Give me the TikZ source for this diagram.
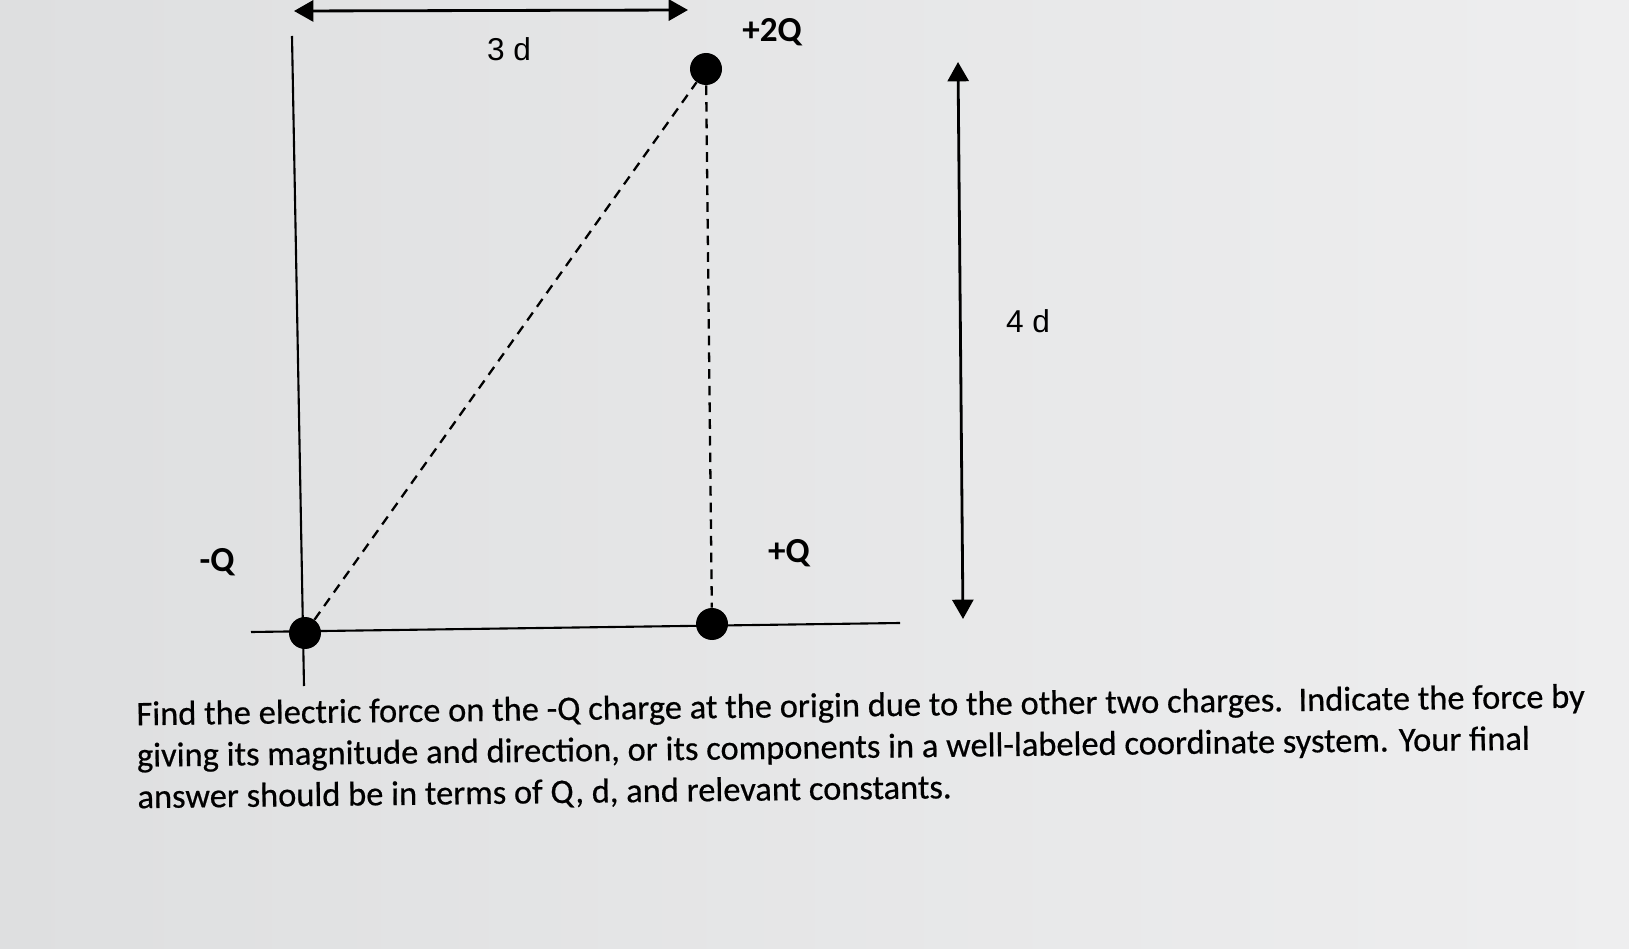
\documentclass[tikz,border=0pt]{standalone}
\usepackage{fontspec}
\setmainfont{Carlito}
\newfontfamily\arialfont{Liberation Sans}
\newfontfamily\questionfont[FakeBold=0.5]{Carlito}
\usetikzlibrary{arrows.meta}

\tikzset{
    charge/.style={circle, fill=black, minimum size=0.64cm, inner sep=0pt},
    qlabel/.style={font=\fontsize{20}{24}\selectfont\bfseries},
    dlabel/.style={font=\arialfont\fontsize{18}{22}\selectfont},
    axis/.style={line width=1.2pt},
    span/.style={line width=1.6pt, {Triangle[length=11pt, width=12pt]}-{Triangle[length=11pt, width=12pt]}},
    link/.style={line width=1.3pt, dash pattern=on 5.5pt off 4pt}
}

\begin{document}
\begin{tikzpicture}[x=0.02cm, y=-0.02cm]
    \fill[left color={rgb,255:red,222;green,223;blue,224}, right color={rgb,255:red,238;green,238;blue,239}] (0,0) rectangle (1629,949);
    \useasboundingbox (0,0) rectangle (1629,949);

    % Axes
    \coordinate (ytop) at (292,36);
    \coordinate (ybot) at (304,686);
    \coordinate (xleft) at (251,632);
    \coordinate (xright) at (900,623);
    \draw[axis] (ytop) -- (ybot);
    \draw[axis] (xleft) -- (xright);

    % Charges
    \node[charge] (neg) at (305,633) {};
    \node[charge] (plus) at (712,624) {};
    \node[charge] (plustwo) at (706,69) {};

    % Dashed links
    \draw[link] (neg) -- (plustwo);
    \draw[link] (plustwo) -- (plus);

    % Dimensions
    \coordinate (wleft) at (294,11);
    \coordinate (wright) at (688,10);
    \coordinate (htop) at (958,62);
    \coordinate (hbot) at (963,619);
    \draw[span] (wleft) -- (wright);
    \draw[span] (htop) -- (hbot);

    % Labels
    \node[dlabel] (width) at (509,49) {3 d};
    \node[dlabel] (height) at (1028,321) {4 d};
    \node[qlabel] (lblneg) at (217,562) {-Q};
    \node[qlabel] (lblplus) at (789,553) {+Q};
    \node[qlabel] (lbltwo) at (772,32) {+2Q};

    % Question
    \node[anchor=north west, align=left, inner sep=0pt, rotate=0.7,
          font=\questionfont\fontsize{19.6}{23.6}\selectfont] (question) at (136,701)
        {Find the electric force on the -Q charge at the origin due to the other two charges.\ \ Indicate the force by\\
         giving its magnitude and direction, or its components in a well-labeled coordinate system. Your final\\
         answer should be in terms of Q, d, and relevant constants.};
\end{tikzpicture}
\end{document}
